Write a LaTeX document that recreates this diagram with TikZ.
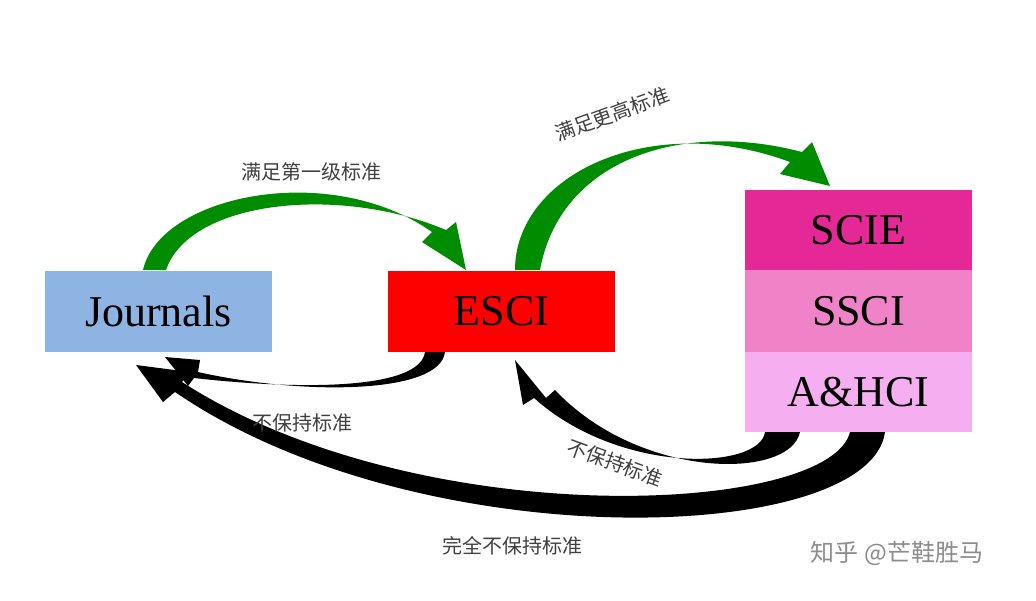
\documentclass[tikz,border=0pt]{standalone}
\usepackage{fontspec}
\setmainfont{Liberation Serif}
\newfontfamily\cjk{Noto Sans CJK SC}
\begin{document}
\begin{tikzpicture}[x=1pt,y=-1pt,
  box/.style={draw=none,minimum width=227pt,minimum height=81pt,inner sep=0pt,font=\fontsize{44}{44}\selectfont},
  lab/.style={font=\cjk\fontsize{20}{20}\selectfont,text=black!75},
  garrow/.style={fill=green!55!black,draw=none},
  barrow/.style={fill=black,draw=none}]
\useasboundingbox (0,0) rectangle (1036,600);
\fill[white] (0,0) rectangle (1036,600);
\node[box,fill={rgb,255:red,142;green,180;blue,227}] (J) at (158.5,311) {Journals};
\node[box,fill={rgb,255:red,255;green,0;blue,0}] (E) at (501.5,311) {ESCI};
\node[box,fill={rgb,255:red,228;green,40;blue,150},minimum height=80pt] (S1) at (858.5,230) {SCIE};
\node[box,fill={rgb,255:red,240;green,130;blue,200},minimum height=82pt] (S2) at (858.5,311) {SSCI};
\node[box,fill={rgb,255:red,245;green,175;blue,240},minimum height=80pt] (S3) at (858.5,392) {A\&HCI};
% green arrow 1
\fill[garrow] (143,270) .. controls (160,195) and (330,160) .. (432,232)
  -- (422,242) -- (466,270) -- (456,222) -- (446,230)
  .. controls (340,185) and (190,200) .. (166,270) -- cycle;
% green arrow 2
\fill[garrow] (515,270) .. controls (515,175) and (650,110) .. (790,162)
  -- (780,174) -- (830,186) -- (812,142) -- (802,152)
  .. controls (680,120) and (560,160) .. (540,270) -- cycle;
% black arrow 1
\fill[barrow] (445,352) .. controls (440,395) and (300,395) .. (198,372)
  -- (200,360) -- (165,357) -- (188,386) -- (194,378)
  .. controls (300,390) and (420,390) .. (425,352) -- cycle;
% black arrow 2
\fill[barrow] (800,432) .. controls (790,480) and (640,480) .. (555,390)
  -- (546,398) -- (515,360) -- (523,405) -- (534,398)
  .. controls (620,475) and (760,470) .. (765,432) -- cycle;
% black arrow 3
\fill[barrow] (885,432) .. controls (870,545) and (420,560) .. (175,392)
  -- (163,402) -- (136,365) -- (190,372) -- (182,382)
  .. controls (420,535) and (830,515) .. (850,432) -- cycle;
\node[lab] (t1) at (311,172) {满足第一级标准};
\node[lab,rotate=20] (t2) at (612,114) {满足更高标准};
\node[lab] (t3) at (302,423) {不保持标准};
\node[lab,rotate=-20] (t4) at (615,463) {不保持标准};
\node[lab] (t5) at (512,546) {完全不保持标准};
\node[font=\cjk\fontsize{24}{24}\selectfont,text=black!45] (w) at (897,553) {知乎 @芒鞋胜马};
\end{tikzpicture}
\end{document}
